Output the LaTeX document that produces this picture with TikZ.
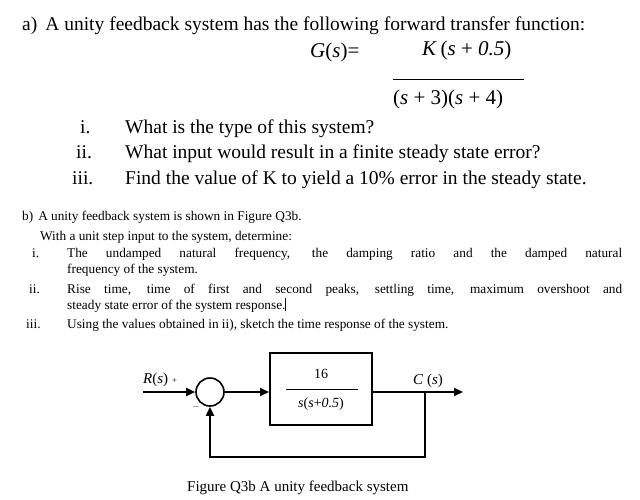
\documentclass[tikz,border=0pt]{standalone}
\usepackage{fontspec}
\setmainfont{Liberation Serif}
\usetikzlibrary{arrows.meta}
\newcommand{\vi}[1]{\textit{#1}}
\begin{document}
\begin{tikzpicture}[x=1pt,y=-1pt,
  A/.style={anchor=base west,inner sep=0,font=\fontsize{19.5}{22}\selectfont},
  B/.style={anchor=base west,inner sep=0,font=\fontsize{13.3}{15}\selectfont},
  wire/.style={line width=2pt},
  arr/.style={wire,-{Triangle[length=9pt,width=8pt]}}]
\useasboundingbox[fill=white] (0,0) rectangle (640,499);
% part a
\node[A] (a0) at (22,30) {a)\hspace{8pt}A unity feedback system has the following forward transfer function:};
\node[A,font=\fontsize{21}{24}\selectfont] (g) at (310,57) {\vi{G}(\vi{s})=};
\node[A,font=\fontsize{21}{24}\selectfont] (num) at (422,55) {\vi{K}\,(\vi{s} + \vi{0.5})};
\node[A,font=\fontsize{21}{24}\selectfont] (den) at (393,104) {(\vi{s} + 3)(\vi{s} + 4)};
\draw[line width=0.5pt] (393,79) -- (524,79);
\node[A] (ai) at (80,133) {i.};
\node[A] (ait) at (125,133) {What is the type of this system?};
\node[A] (aii) at (76,158) {ii.};
\node[A] (aiit) at (125,158) {What input would result in a finite steady state error?};
\node[A] (aiii) at (72,184) {iii.};
\node[A] (aiiit) at (125,184) {Find the value of K to yield a 10\% error in the steady state.};
% part b
\node[B] (b0) at (22,220) {b)\hspace{5pt}A unity feedback system is shown in Figure Q3b.};
\node[B] (b1) at (40,240) {With a unit step input to the system, determine:};
\node[B] (bi) at (32,257) {i.};
\node[B] (bit) at (67,257) {\makebox[555pt][s]{The undamped natural frequency, the damping ratio and the damped natural}};
\node[B] (bit2) at (67,273) {frequency of the system.};
\node[B] (bii) at (29,293) {ii.};
\node[B] (biit) at (67,293) {\makebox[555pt][s]{Rise time, time of first and second peaks, settling time, maximum overshoot and}};
\node[B] (biit2) at (67,309) {steady state error of the system response.\rule[-2pt]{0.6pt}{13pt}};
\node[B] (biii) at (26,328) {iii.};
\node[B] (biiit) at (67,328) {Using the values obtained in ii), sketch the time response of the system.};
% block diagram
\node[draw,circle,line width=1.6pt,minimum size=28pt,inner sep=0] (sum) at (210,392) {};
\node[draw,line width=2pt,minimum width=102pt,minimum height=72pt,inner sep=0] (G) at (321,389) {};
\node[inner sep=0] (gn) at (321,374) {\fontsize{14}{16}\selectfont 16};
\node[inner sep=0] (gd) at (321,404) {\fontsize{14}{16}\selectfont \vi{s}(\vi{s}+\vi{0.5})};
\draw[line width=0.5pt] (286,389) -- (358,389);
\coordinate (in) at (143,392);
\coordinate (out) at (463,392);
\coordinate (br) at (425,392);
\coordinate (bot) at (425,457);
\draw[arr] (in) -- (sum);
\draw[arr] (sum) -- (G.west|-sum);
\draw[arr] (G.east|-sum) -- (out);
\draw[arr] (br) -- (bot) -| (sum.south);
\node[inner sep=0,anchor=base west] (rl) at (143,383) {\fontsize{15}{17}\selectfont \vi{R}(\vi{s}) {\small +}};
\node[inner sep=0,anchor=base west] (cl) at (413,384) {\fontsize{15}{17}\selectfont \vi{C} (\vi{s})};
\node[inner sep=0] (mi) at (196,407) {\small $-$};
\node[B,font=\fontsize{15}{17}\selectfont] (cap) at (187,491) {Figure Q3b A unity feedback system};
\end{tikzpicture}
\end{document}
